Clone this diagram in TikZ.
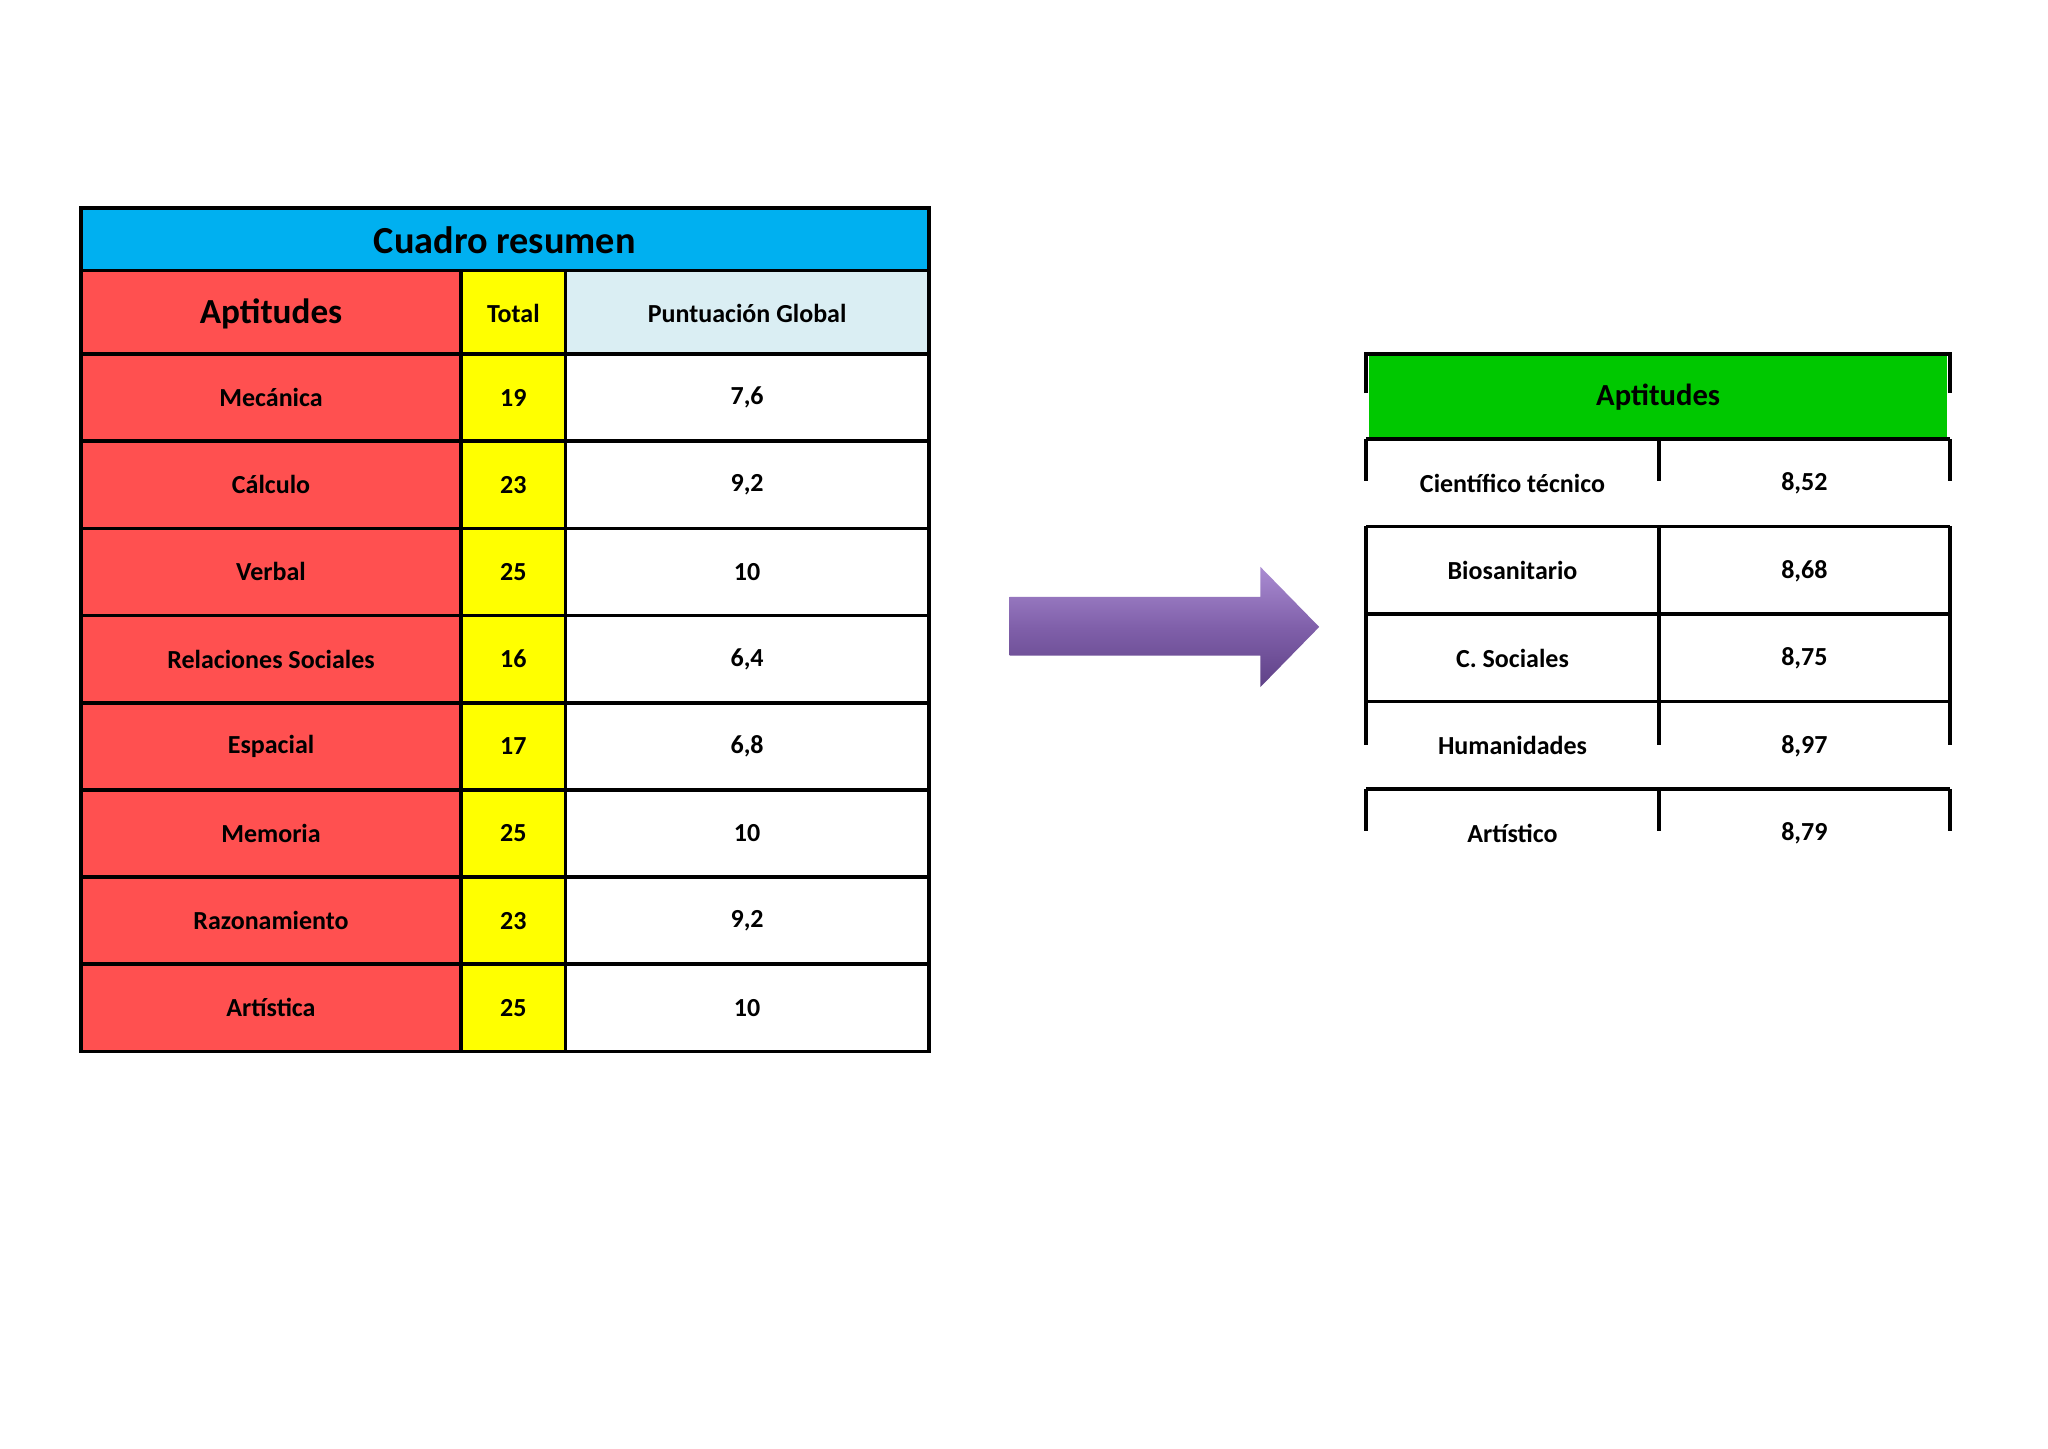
\documentclass[tikz,border=0pt]{standalone}
\usepackage{fontspec}
\setmainfont{Carlito}
\usetikzlibrary{shadings}
\definecolor{tcyan}{RGB}{0,176,240}
\definecolor{tred}{RGB}{255,80,80}
\definecolor{tyel}{RGB}{255,255,0}
\definecolor{tlb}{RGB}{218,238,243}
\definecolor{tgreen}{RGB}{0,200,0}
\definecolor{tpurp}{RGB}{128,96,170}
\definecolor{tpurpd}{RGB}{95,65,135}
\definecolor{tpurpl}{RGB}{170,140,210}
\begin{document}
\begin{tikzpicture}[x=0.03cm,y=-0.03cm,
  cellb/.style={draw=black,line width=2.4pt},
  txt/.style={font=\bfseries\fontsize{17}{20}\selectfont,inner sep=0pt},
  rl/.style={line width=2.4pt}]
\useasboundingbox (0,0) rectangle (1568,1109);
\fill[white] (0,0) rectangle (1568,1109);
% left table
\filldraw[cellb,fill=tcyan] (62,159) rectangle (711,207);
\node[font=\bfseries\fontsize{25}{28}\selectfont] (title) at (386.5,184) {Cuadro resumen};
\filldraw[cellb,fill=tred] (62,207) rectangle (353,271);
\filldraw[cellb,fill=tyel] (353,207) rectangle (433,271);
\filldraw[cellb,fill=tlb] (433,207) rectangle (711,271);
\node[font=\bfseries\fontsize{23}{26}\selectfont] (h1) at (207.5,240) {Aptitudes};
\node[txt] (h2) at (393,240) {Total};
\node[txt] (h3) at (572,240) {Puntuación Global};
\foreach \i/\a/\t/\p in {0/Mecánica/19/{7,6},1/Cálculo/23/{9,2},2/Verbal/25/10,3/Relaciones Sociales/16/{6,4},4/Espacial/17/{6,8},5/Memoria/25/10,6/Razonamiento/23/{9,2},7/Artística/25/10}{
  \pgfmathsetmacro\ya{271+\i*66.75}
  \pgfmathsetmacro\yb{\ya+66.75}
  \pgfmathsetmacro\ym{\ya+33.4}
  \filldraw[cellb,fill=tred] (62,\ya) rectangle (353,\yb);
  \filldraw[cellb,fill=tyel] (353,\ya) rectangle (433,\yb);
  \filldraw[cellb,fill=white] (433,\ya) rectangle (711,\yb);
  \node[txt] (a\i) at (207.5,\ym) {\a};
  \node[txt] (t\i) at (393,\ym) {\t};
  \node[txt] (p\i) at (572,\ym) {\p};
}
% arrow
\shade[top color=tpurpl,bottom color=tpurpd,middle color=tpurp]
  (773,457) -- (965,457) -- (965,434) -- (1010,480) -- (965,526) -- (965,502) -- (773,502) -- cycle;
% right table
\fill[tgreen] (1048,271) rectangle (1491,336);
\draw[rl] (1046,301) -- (1046,271) -- (1493,271) -- (1493,301);
\node[font=\bfseries\fontsize{20}{24}\selectfont] (rh) at (1269.5,304) {Aptitudes};
\draw[rl] (1046,336) -- (1493,336);
\draw[rl] (1046,403) -- (1493,403);
\draw[rl] (1046,470) -- (1493,470);
\draw[rl] (1046,537) -- (1493,537);
\draw[rl] (1046,604) -- (1493,604);
\foreach \x in {1046,1270,1493}{
  \draw[rl] (\x,336) -- (\x,368);
  \draw[rl] (\x,403) -- (\x,537);
  \draw[rl] (\x,537) -- (\x,570);
  \draw[rl] (\x,604) -- (\x,636);
}
\foreach \i/\a/\v in {0/Científico técnico/{8,52},1/Biosanitario/{8,68},2/C. Sociales/{8,75},3/Humanidades/{8,97},4/Artístico/{8,79}}{
  \pgfmathsetmacro\ym{370+\i*67}
  \node[txt] (ra\i) at (1158,\ym) {\a};
  \node[txt] (rv\i) at (1381.5,\ym) {\v};
}
\end{tikzpicture}
\end{document}
